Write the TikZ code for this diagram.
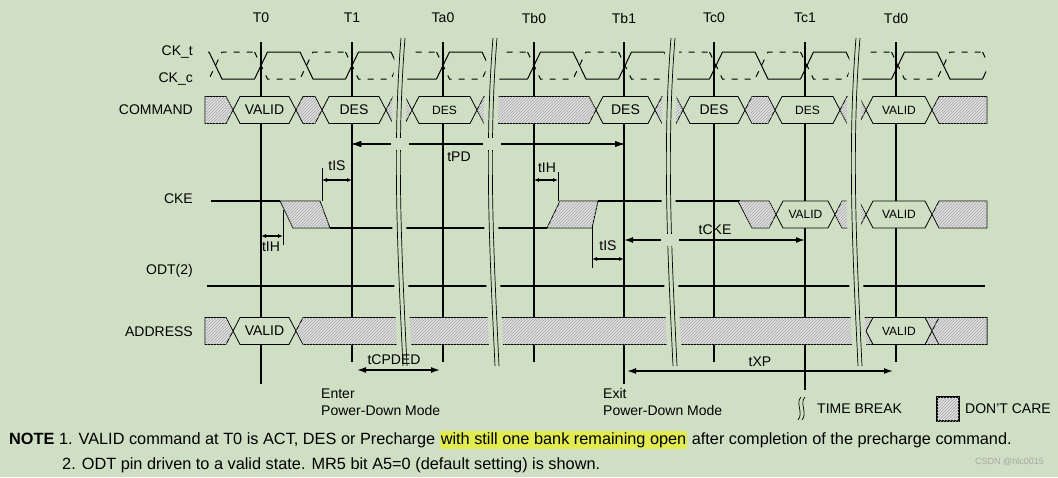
\documentclass[tikz,border=0pt]{standalone}
\usepackage{fontspec}
\setmainfont{Liberation Sans}
\usepackage{tikz}
\usetikzlibrary{patterns}
\usetikzlibrary{arrows.meta}
\definecolor{bg}{RGB}{207,223,196}
\definecolor{hl}{RGB}{226,236,80}
\tikzset{sig/.style={line width=1.6pt}}
\tikzset{bus/.style={line width=0.8pt, fill=bg}}
\tikzset{dc/.style={line width=0.8pt, fill=gray!25, postaction={pattern=north east lines, pattern color=gray!70}}}
\tikzset{dim/.style={line width=1.4pt, {Latex[length=9pt,width=6pt]}-{Latex[length=9pt,width=6pt]}}}
\tikzset{dims/.style={line width=1.2pt, {Latex[length=5pt,width=4pt]}-{Latex[length=5pt,width=4pt]}}}
\tikzset{lbl/.style={font=\fontsize{14}{16.5}\selectfont, inner sep=0pt}}
% hexagon with tips at #1 and #2, centre row #3
\newcommand\hexv[4]{\draw[bus] (#1,#3) -- (#1+7,#3-13.5) -- (#2-7,#3-13.5) -- (#2,#3) -- (#2-7,#3+13.5) -- (#1+7,#3+13.5) -- cycle;
  \node[lbl] at ({(#1+#2)/2},#3) {#4};}
\newcommand\hexdc[3]{\draw[dc] (#1,#3) -- (#1+7,#3-13.5) -- (#2-7,#3-13.5) -- (#2,#3) -- (#2-7,#3+13.5) -- (#1+7,#3+13.5) -- cycle;}
\newcommand\flatdcl[3]{\draw[dc] (#1,#3-13.5) -- (#2-7,#3-13.5) -- (#2,#3) -- (#2-7,#3+13.5) -- (#1,#3+13.5) -- cycle;}
\newcommand\flatdcr[3]{\draw[dc] (#1,#3) -- (#1+7,#3-13.5) -- (#2,#3-13.5) -- (#2,#3+13.5) -- (#1+7,#3+13.5) -- cycle;}
\newcommand\tbreak[1]{%
  \fill[bg] (#1-4,36) .. controls (#1-13,150) and (#1-7,260) .. (#1-2,368) -- (#1+12,368) .. controls (#1+7,260) and (#1+1,150) .. (#1+10,36) -- cycle;
  \draw[line width=0.7pt] (#1+1,38) .. controls (#1-8,150) and (#1-2,260) .. (#1+3,366);
  \draw[line width=0.7pt] (#1+5,38) .. controls (#1-4,150) and (#1+2,260) .. (#1+7,366);}
\begin{document}
\begin{tikzpicture}[x=1pt,y=-1pt]
    \fill[bg] (0,0) rectangle (1058,477);
    \useasboundingbox (0,0) rectangle (1058,477);
    % time lines
    \foreach \name/\x/\yb in {T0/261/384,T1/352/362,Ta0/443/362,Tb0/534/362,Tb1/624/384,Tc0/714/362,Tc1/805/390,Td0/896/362} {
        \node[lbl] (\name) at (\x,18) {\name};
        \draw[sig] (\x,42) -- (\x,\yb);
    }
    % signal names
    \foreach \n/\t/\y in {ckt/CK\_t/52,ckc/CK\_c/79,cmd/COMMAND/110,cke/CKE/199,odt/ODT(2)/271,adr/ADDRESS/332}
        \node[lbl, anchor=east] (\n) at (193,\y) {\t};
    % clock
    \begin{scope}
        \clip (208,40) rectangle (986,90);
        \foreach \k in {-1,...,8} {
            \pgfmathsetmacro\c{261+91*\k}
            \draw[line width=1pt] (\c-6.5,79) -- (\c+6.5,52) -- (\c+39,52) -- (\c+52,79) -- (\c+84.5,79);
            \draw[line width=1pt, dash pattern=on 6pt off 7pt] (\c-6.5,52) -- (\c+6.5,79) -- (\c+39,79) -- (\c+52,52) -- (\c+84.5,52);
        }
    \end{scope}
    % command
    \flatdcl{205}{233}{110}
    \hexv{233}{296}{110}{VALID}
    \hexdc{296}{322}{110}
    \hexv{322}{386}{110}{DES}
    \flatdcr{386}{400}{110}
    \flatdcl{398}{412}{110}
    \hexv{412}{477}{110}{\fontsize{12}{14}\selectfont DES}
    \flatdcr{477}{492}{110}
    \flatdcl{494}{596}{110}
    \hexv{596}{655}{110}{DES}
    \flatdcr{655}{670}{110}
    \flatdcl{670}{683}{110}
    \hexv{683}{745}{110}{DES}
    \hexdc{745}{775}{110}
    \hexv{775}{840}{110}{\fontsize{12}{14}\selectfont DES}
    \flatdcr{840}{855}{110}
    \flatdcl{852}{866}{110}
    \hexv{866}{932}{110}{\fontsize{12}{14}\selectfont VALID}
    \flatdcr{932}{987}{110}
    % CKE
    \draw[sig] (211,201) -- (280,201);
    \draw[sig] (330,228) -- (547,228);
    \draw[dc] (280,201) -- (320,201) -- (330,228) -- (293,228) -- cycle;
    \draw[dc] (560,201) -- (598,201) -- (592,228) -- (547,228) -- cycle;
    \draw[sig] (598,201) -- (740,201);
    \draw[dc] (738,201) -- (769,201) -- (776,214.5) -- (769,228) -- (752,228) -- cycle;
    \hexv{776}{835}{214.5}{\fontsize{12}{14}\selectfont VALID}
    \flatdcr{835}{855}{214.5}
    \flatdcl{852}{866}{214.5}
    \hexv{866}{932}{214.5}{\fontsize{12}{14}\selectfont VALID}
    \flatdcr{932}{987}{214.5}
    % ODT
    \draw[sig] (207,286) -- (985,286);
    % address
    \flatdcl{205}{233}{331}
    \hexv{233}{296}{331}{VALID}
    \flatdcr{296}{987}{331}
    \hexv{866}{932}{331}{\fontsize{12}{14}\selectfont VALID}
    \flatdcr{932}{987}{331}
    % time breaks
    \foreach \b in {400,492,670,855}
        \tbreak{\b}
    % timing parameters
    \draw[dim] (352,144) -- (624,144);
    \foreach \b in {400,492} \fill[bg] (\b-9,138) rectangle (\b+9,150);
    \node[lbl] (tpd) at (459,157) {tPD};
    \draw[line width=1pt] (322,168) -- (322,201);
    \draw[dims] (322,180) -- (352,180);
    \node[lbl] (tis1) at (337,166) {tIS};
    \draw[line width=1pt] (283,210) -- (283,245);
    \draw[dims] (261,236) -- (283,236);
    \node[lbl] (tih1) at (271,247) {tIH};
    \draw[line width=1pt] (558,172) -- (558,201);
    \draw[dims] (534,180) -- (558,180);
    \node[lbl] (tih2) at (547,168) {tIH};
    \draw[line width=1pt] (592,226) -- (592,268);
    \draw[dims] (592,259) -- (624,259);
    \node[lbl] (tis2) at (608,246) {tIS};
    \draw[dim] (624,240) -- (805,240);
    \fill[bg] (661,234) rectangle (679,246);
    \node[lbl] (tcke) at (715,230) {tCKE};
    \draw[dim] (357,370) -- (440,370);
    \node[lbl] (tcpded) at (394,360) {tCPDED};
    \draw[dim] (627,371) -- (893,371);
    \node[lbl] (txp) at (760,362) {tXP};
    % mode labels
    \node[lbl, anchor=west, align=left] (enter) at (321,402) {Enter\\Power-Down Mode};
    \node[lbl, anchor=west, align=left] (exit) at (603,402) {Exit\\Power-Down Mode};
    % legend
    \draw[line width=0.7pt] (801,397) .. controls (795,403) and (804,413) .. (798,420);
    \draw[line width=0.7pt] (805,397) .. controls (799,403) and (808,413) .. (802,420);
    \node[lbl, anchor=west] (tbk) at (817,409) {TIME BREAK};
    \draw[line width=1.4pt, fill=gray!25, postaction={pattern=north east lines, pattern color=gray!70}] (937,397) rectangle (959,421);
    \node[lbl, anchor=west] (dcare) at (965,409) {DON'T CARE};
    % notes
    \node[anchor=west, inner sep=0pt, font=\fontsize{16.3}{19}\selectfont] (note1) at (9,440)
        {\textbf{NOTE} 1. VALID command at T0 is ACT, DES or Precharge {\setlength\fboxsep{1pt}\colorbox{hl}{with still one bank remaining open}} after completion of the precharge command.};
    \node[anchor=west, inner sep=0pt, font=\fontsize{16.3}{19}\selectfont] (note2) at (62,465)
        {2. ODT pin driven to a valid state. MR5 bit A5=0 (default setting) is shown.};
    \node[anchor=east, inner sep=0pt, text=gray!70!white, font=\fontsize{9}{11}\selectfont] (wm) at (1044,462) {CSDN @hlc0015};
\end{tikzpicture}
\end{document}
